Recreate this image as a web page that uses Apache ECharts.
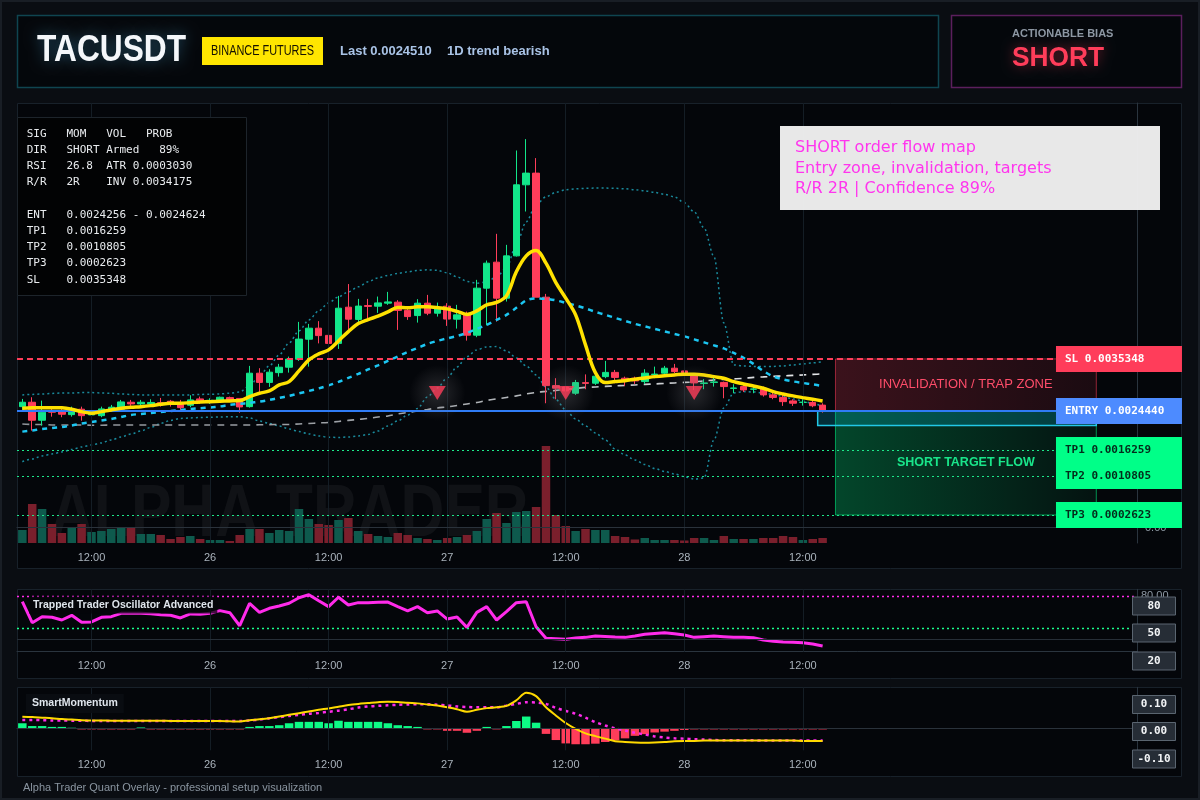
<!DOCTYPE html>
<html>
<head>
<meta charset="utf-8">
<title>TACUSDT</title>
<script src="https://cdn.jsdelivr.net/npm/echarts@6/dist/echarts.min.js"></script>
<style>
html,body{margin:0;padding:0;background:#0a0d12;overflow:hidden;}
#chart{width:1200px;height:800px;}
</style>
</head>
<body>
<div id="chart"></div>
<script>
// ---------------- data ----------------
const symbolName = 'TACUSDT';
const exchangeName = 'BINANCE FUTURES';
const lastPrice = 0.0024510;
const trendText = '1D trend bearish';
const biasText = 'SHORT';
const dayStart = 25;            // x values are hours counted from day 25 00:00
const startHour = 5;            // first hourly candle: 25 05:00
const tickHours = [12, 24, 36, 48, 60, 72, 84];

const opens = [0.002534,0.002626,0.002249,0.002429,0.002423,0.002366,0.002480,0.002360,0.002345,0.002465,
0.002480,0.002626,0.002591,0.002591,0.002618,0.002647,0.002618,0.002563,0.002696,0.002660,
0.002660,0.002723,0.002706,0.002534,0.003235,0.003042,0.003247,0.003361,0.003528,0.003948,
0.004179,0.004028,0.003860,0.004619,0.004363,0.004653,0.004640,0.004703,0.004724,0.004552,
0.004443,0.004703,0.004493,0.004640,0.004368,0.004458,0.004032,0.005018,0.005563,0.004808,
0.005695,0.007185,0.007430,0.004829,0.002975,0.002947,0.002815,0.003038,0.003025,0.003163,
0.003252,0.003130,0.003130,0.003059,0.003205,0.003235,0.003340,0.003283,0.003189,0.003021,
0.003042,0.003042,0.002916,0.002954,0.002899,0.002920,0.002780,0.002727,0.002654,0.002622,
0.002622,0.002566];
const closes = [0.002626,0.002249,0.002417,0.002417,0.002375,0.002450,0.002345,0.002417,0.002486,0.002522,
0.002633,0.002591,0.002626,0.002622,0.002584,0.002626,0.002513,0.002675,0.002660,0.002668,
0.002731,0.002675,0.002528,0.003235,0.003042,0.003256,0.003361,0.003531,0.003950,0.004179,
0.004023,0.003860,0.004598,0.004368,0.004642,0.004636,0.004709,0.004730,0.004552,0.004422,
0.004703,0.004493,0.004615,0.004370,0.004458,0.004032,0.005018,0.005542,0.004808,0.005695,
0.007185,0.007430,0.004829,0.002975,0.002920,0.002863,0.003038,0.003021,0.003172,0.003252,
0.003147,0.003094,0.003073,0.003235,0.003216,0.003340,0.003268,0.003241,0.003031,0.003031,
0.003052,0.002954,0.002926,0.002884,0.002905,0.002780,0.002727,0.002639,0.002605,0.002628,
0.002553,0.002451];
const lows = [0.002465,0.002031,0.002136,0.002324,0.002312,0.002324,0.002240,0.002276,0.002312,0.002429,
0.002444,0.002549,0.002534,0.002534,0.002534,0.002534,0.002465,0.002522,0.002591,0.002591,
0.002639,0.002639,0.002408,0.002513,0.002821,0.002947,0.003163,0.003247,0.003493,0.003373,
0.003860,0.003394,0.003744,0.004143,0.004284,0.004374,0.004500,0.004668,0.004143,0.004353,
0.004296,0.004451,0.004422,0.004227,0.004170,0.003918,0.003990,0.004237,0.004317,0.004737,
0.005681,0.006625,0.004829,0.002605,0.002689,0.002780,0.002780,0.002899,0.002989,0.003130,
0.003025,0.002968,0.003010,0.003010,0.003130,0.003178,0.003235,0.003163,0.002884,0.002899,
0.002954,0.002710,0.002815,0.002842,0.002815,0.002744,0.002689,0.002549,0.002549,0.002555,
0.002522,0.002408];
const highs = [0.002696,0.002731,0.002660,0.002507,0.002501,0.002534,0.002534,0.002507,0.002534,0.002570,
0.002675,0.002675,0.002675,0.002689,0.002717,0.002675,0.002675,0.002773,0.002744,0.002710,
0.002744,0.002744,0.002710,0.003388,0.003340,0.003319,0.003430,0.003583,0.004311,0.004269,
0.004326,0.004080,0.004856,0.005104,0.004793,0.004793,0.004842,0.004940,0.004766,0.004598,
0.004787,0.004877,0.004716,0.004703,0.004668,0.004527,0.005192,0.005597,0.006157,0.005926,
0.007904,0.008143,0.007745,0.004898,0.003130,0.003094,0.003094,0.003210,0.003199,0.003493,
0.003304,0.003163,0.003163,0.003319,0.003373,0.003388,0.003430,0.003319,0.003235,0.003109,
0.003142,0.003059,0.003004,0.002989,0.002975,0.002954,0.002849,0.002815,0.002689,0.002689,
0.002660,0.002605];
const volumes = [1.3,3.9,3.4,1.9,1.0,1.5,1.9,1.1,1.2,1.4, 1.5,1.5,0.9,0.9,0.8,0.4,0.6,0.7,0.4,0.3,
0.3,0.2,0.8,1.4,1.4,1.0,1.3,1.2,3.4,2.4, 1.9,1.8,2.3,2.5,1.2,0.9,0.7,0.6,1.0,0.8,
0.5,0.4,0.3,0.5,0.6,0.8,1.2,2.4,3.0,2.0, 3.1,3.2,3.6,9.7,2.8,1.7,1.2,1.4,1.3,1.3,
0.7,0.6,0.35,0.5,0.3,0.3,0.3,0.25,0.5,0.5, 0.3,0.7,0.4,0.4,0.4,0.5,0.5,0.7,0.6,0.3,
0.4,0.5];
const emaFast = [0.002501,0.002513,0.002513,0.002513,0.002509,0.002480,0.002429,0.002396,0.002429,0.002465,
0.002501,0.002522,0.002534,0.002555,0.002584,0.002605,0.002605,0.002618,0.002633,0.002639,
0.002647,0.002654,0.002660,0.002744,0.002815,0.002863,0.002989,0.003059,0.003283,0.003514,
0.003640,0.003724,0.003912,0.004107,0.004275,0.004359,0.004430,0.004521,0.004615,0.004605,
0.004626,0.004626,0.004611,0.004584,0.004531,0.004468,0.004542,0.004668,0.004720,0.004856,
0.005360,0.005695,0.005807,0.005542,0.005135,0.004808,0.004458,0.003828,0.003247,0.003038,
0.003059,0.003079,0.003109,0.003136,0.003163,0.003184,0.003199,0.003214,0.003214,0.003199,
0.003163,0.003130,0.003059,0.003010,0.002968,0.002920,0.002849,0.002800,0.002759,0.002723,
0.002689,0.002654];
const emaMid = [0.002010,0.002035,0.002066,0.002087,0.002108,0.002140,0.002182,0.002213,0.002245,0.002276,
0.002318,0.002360,0.002381,0.002402,0.002423,0.002444,0.002465,0.002486,0.002501,0.002517,
0.002538,0.002570,0.002591,0.002612,0.002639,0.002675,0.002717,0.002759,0.002811,0.002863,
0.002916,0.002979,0.003052,0.003136,0.003220,0.003314,0.003398,0.003493,0.003587,0.003682,
0.003765,0.003849,0.003912,0.003965,0.004017,0.004080,0.004164,0.004248,0.004353,0.004458,
0.004605,0.004762,0.004804,0.004793,0.004762,0.004709,0.004657,0.004594,0.004521,0.004458,
0.004395,0.004332,0.004269,0.004217,0.004164,0.004112,0.004059,0.004007,0.003944,0.003881,
0.003818,0.003755,0.003661,0.003556,0.003430,0.003283,0.003168,0.003105,0.003063,0.003031,
0.003000,0.002968];
const smaSlow = [0.002171,0.002161,0.002161,0.002150,0.002150,0.002150,0.002150,0.002144,0.002144,0.002150,
0.002150,0.002150,0.002150,0.002150,0.002150,0.002150,0.002150,0.002150,0.002150,0.002150,
0.002150,0.002150,0.002150,0.002150,0.002154,0.002157,0.002159,0.002161,0.002171,0.002182,
0.002192,0.002203,0.002224,0.002245,0.002266,0.002287,0.002318,0.002339,0.002381,0.002412,
0.002444,0.002475,0.002507,0.002528,0.002559,0.002591,0.002622,0.002664,0.002696,0.002727,
0.002759,0.002800,0.002832,0.002853,0.002874,0.002895,0.002916,0.002937,0.002947,0.002958,
0.002968,0.002979,0.002989,0.003000,0.003010,0.003021,0.003031,0.003042,0.003052,0.003073,
0.003094,0.003105,0.003115,0.003126,0.003147,0.003157,0.003168,0.003178,0.003189,0.003199,
0.003210,0.003220];
const bbUpper = [0.002780,0.002790,0.002800,0.002811,0.002821,0.002821,0.002828,0.002828,0.002821,0.002815,
0.002800,0.002790,0.002780,0.002780,0.002780,0.002780,0.002780,0.002780,0.002790,0.002794,
0.002800,0.002815,0.002842,0.002968,0.003178,0.003388,0.003619,0.003870,0.004122,0.004353,
0.004542,0.004709,0.004835,0.004940,0.005045,0.005150,0.005234,0.005286,0.005328,0.005360,
0.005391,0.005402,0.005391,0.005339,0.005255,0.005160,0.005123,0.005150,0.005255,0.005444,
0.005926,0.006409,0.006765,0.006933,0.007027,0.007080,0.007101,0.007111,0.007116,0.007116,
0.007111,0.007101,0.007080,0.007059,0.007027,0.006985,0.006933,0.006807,0.006618,0.006283,
0.005681,0.004290,0.003409,0.003388,0.003377,0.003373,0.003377,0.003388,0.003409,0.003430,
0.003451,0.003478];
const bbLower = [0.001380,0.001437,0.001500,0.001542,0.001584,0.001636,0.001689,0.001731,0.001773,0.001836,
0.001898,0.001961,0.002024,0.002098,0.002182,0.002245,0.002287,0.002297,0.002308,0.002312,
0.002318,0.002324,0.002324,0.002297,0.002234,0.002182,0.002129,0.002066,0.002014,0.001961,
0.001919,0.001892,0.001888,0.001898,0.001919,0.001951,0.002024,0.002129,0.002234,0.002360,
0.002496,0.002738,0.002926,0.003136,0.003367,0.003583,0.003724,0.003786,0.003793,0.003703,
0.003556,0.003388,0.003199,0.002947,0.002685,0.002465,0.002276,0.002129,0.001982,0.001836,
0.001647,0.001521,0.001416,0.001322,0.001238,0.001175,0.001122,0.001066,0.001017,0.001038,
0.001836,0.002507,0.002821,0.002849,0.002842,0.002821,0.002790,0.002748,0.002696,0.002654,
0.002601,0.002534];
const signalHours = [47, 60, 73];
const signalPrices = [0.002821, 0.002821, 0.002821];

const oscValues = [74.7,55.2,60.8,60.2,57.7,62.1,55.6,55.9,60.2,60.8,
63.9,63.9,63.9,63.6,62.6,62.1,59.6,63.3,63.0,63.9,
66.4,64.5,52.4,73.2,64.8,68.6,70.7,73.2,78.4,81.2,
75.6,70.1,78.8,71.6,73.8,73.8,74.1,74.4,70.1,66.1,
70.1,64.5,66.1,58.6,60.5,50.9,64.8,70.1,57.7,65.4,
73.8,74.7,51.5,40.7,40.4,39.8,41.0,41.6,42.8,42.5,
42.0,41.6,42.8,44.4,45.2,45.9,45.0,43.8,41.6,42.2,
42.8,42.2,41.6,41.6,41.3,39.1,38.0,37.3,37.0,36.6,
35.4,33.6];
const oscUpper = 80, oscMid = 50, oscGrid = 40;
const momLine = [0.041,0.040,0.038,0.036,0.033,0.031,0.029,0.028,0.028,0.027,
0.027,0.027,0.027,0.027,0.027,0.026,0.026,0.026,0.026,0.026,
0.026,0.025,0.024,0.029,0.032,0.036,0.042,0.048,0.054,0.060,
0.066,0.071,0.077,0.083,0.087,0.090,0.093,0.095,0.094,0.091,
0.089,0.085,0.081,0.075,0.068,0.059,0.066,0.072,0.075,0.080,
0.100,0.127,0.115,0.075,0.046,0.019,-0.002,-0.018,-0.028,-0.037,
-0.046,-0.049,-0.051,-0.052,-0.051,-0.049,-0.046,-0.045,-0.045,-0.044,
-0.044,-0.044,-0.044,-0.044,-0.044,-0.044,-0.044,-0.044,-0.044,-0.045,
-0.045,-0.045];
const momSignal = [0.030,0.030,0.029,0.028,0.028,0.027,0.027,0.026,0.026,0.026,
0.026,0.026,0.026,0.026,0.026,0.026,0.026,0.026,0.026,0.026,
0.026,0.026,0.026,0.028,0.031,0.036,0.040,0.044,0.048,0.052,
0.055,0.059,0.063,0.068,0.074,0.078,0.080,0.082,0.084,0.085,
0.086,0.086,0.084,0.082,0.078,0.076,0.075,0.075,0.075,0.081,
0.087,0.093,0.092,0.087,0.073,0.062,0.052,0.038,0.022,0.010,
0.000,-0.008,-0.016,-0.022,-0.029,-0.033,-0.036,-0.037,-0.039,-0.040,
-0.042,-0.043,-0.043,-0.043,-0.043,-0.044,-0.044,-0.044,-0.044,-0.044,
-0.044,-0.044];
const momHist = [0.018,0.008,0.008,0.005,0.005,0.002,-0.004,-0.004,-0.004,-0.004,
-0.004,-0.004,0.003,-0.004,-0.004,-0.004,-0.004,-0.004,-0.004,-0.004,
-0.004,-0.004,-0.004,0.005,0.008,0.008,0.011,0.018,0.023,0.023,
0.023,0.018,0.027,0.023,0.023,0.023,0.023,0.018,0.011,0.008,
0.005,-0.004,-0.004,-0.009,-0.009,-0.016,-0.009,0.005,-0.004,0.008,
0.026,0.042,0.020,-0.020,-0.042,-0.054,-0.057,-0.057,-0.055,-0.049,
-0.043,-0.036,-0.027,-0.021,-0.015,-0.012,-0.009,-0.006,-0.004,-0.004,
-0.004,-0.004,-0.004,-0.004,-0.004,-0.004,-0.004,-0.004,-0.004,-0.004,
-0.004,-0.004];
const oscBoxLabels = ['80', '50', '20'];
const momBoxLabels = ['0.10', '0.00', '-0.10'];

// trade setup
const slLevel = 0.0035348;
const entryLevel = 0.0024440;
const tp1Level = 0.0016259;
const tp2Level = 0.0010805;
const tp3Level = 0.0002623;
const entryLow = 0.0024256, entryHigh = 0.0024624;
const atrValue = 0.0003030;
const invLevel = 0.0034175;
const rsiValue = 26.8;
const probValue = 89;
const rrText = '2R';

// ---------------- layout ----------------
const xMin = 4.46, xMax = 117.82;
const labelStartHour = 109.62;
const zoneStartHour = 87.3, zoneEndHour = 113.7, entryZoneStartHour = 85.5;
const SANS = '"Liberation Sans", Arial, sans-serif';
const MONO = '"DejaVu Sans Mono", monospace';

const hours = opens.map((_, i) => startHour + i);
const candleData = hours.map((h, i) => [h, opens[i], closes[i], lows[i], highs[i]]);
const pairs = arr => arr.map((v, i) => [hours[i], v]);
const isUp = i => closes[i] >= opens[i];

function fmtTick(v) {
  const r = Math.round(v);
  return r % 24 === 0 ? String(dayStart + r / 24) : '12:00';
}
function xAxisFor(gi) {
  return {
    type: 'value', gridIndex: gi, min: xMin, max: xMax,
    axisLine: {show: true, lineStyle: {color: '#2a343e', width: 1}},
    axisTick: {show: false}, splitLine: {show: false},
    axisLabel: {customValues: tickHours, formatter: fmtTick, color: '#aab3bc', fontSize: 11, fontFamily: SANS, margin: 9}
  };
}
const vGridLines = tickHours.map(h => ({xAxis: h}));
const gridLineStyle = {color: '#141d25', width: 1, type: 'solid'};

function levelLine(value, text, color, type, width, bg, txt) {
  return [
    {coord: [xMin, value], lineStyle: {color: color, type: type, width: width},
     label: {show: true, position: 'end', distance: 0, formatter: text, backgroundColor: bg, color: txt,
             fontFamily: MONO, fontWeight: 'bold', fontSize: 11, width: 108, height: 26, lineHeight: 26, padding: [0, 9, 0, 9]}},
    {coord: [labelStartHour, value]}
  ];
}

const infoLines = [
  'SIG   MOM   VOL   PROB',
  'DIR   ' + biasText + ' Armed   ' + probValue + '%',
  'RSI   ' + rsiValue.toFixed(1) + '  ATR ' + atrValue.toFixed(7),
  'R/R   ' + rrText + '    INV ' + invLevel.toFixed(7),
  '',
  'ENT   ' + entryLow.toFixed(7) + ' - ' + entryHigh.toFixed(7),
  'TP1   ' + tp1Level.toFixed(7),
  'TP2   ' + tp2Level.toFixed(7),
  'TP3   ' + tp3Level.toFixed(7),
  'SL    ' + slLevel.toFixed(7)
];
const noteLines = [
  biasText + ' order flow map',
  'Entry zone, invalidation, targets',
  'R/R ' + rrText + ' | Confidence ' + probValue + '%'
];

function txt(x, y, text, font, fill, extra) {
  return Object.assign({type: 'text', x: x, y: y, z: 100,
    style: Object.assign({text: text, font: font, fill: fill, align: 'left', verticalAlign: 'middle',
      textAlign: 'left', textVerticalAlign: 'middle'}, (extra && extra.style) || {})},
    (extra && extra.props) || {});
}
function box(x, y, w, h, fill, stroke, z, lw) {
  return {type: 'rect', z: z, shape: {x: x, y: y, width: w, height: h},
    style: {fill: fill, stroke: stroke || null, lineWidth: lw || 1}};
}
function valueBoxes(labels, centers) {
  const out = [];
  labels.forEach((l, k) => {
    out.push(box(1132.5, centers[k] - 9, 43, 18, '#262d36', '#5a6570', 100, 1));
    out.push(txt(1154, centers[k], l, 'bold 11px ' + MONO, '#f2f4f6',
      {style: {align: 'center', textAlign: 'center'}}));
  });
  return out;
}

const graphics = [
  // panels
  box(1, 1, 1198, 798, null, '#191e25', -20, 2),
  box(17.5, 15.5, 921, 72, '#04070b', '#0f4550', -10, 1.5),
  box(951.5, 15.5, 230, 72, '#04070b', '#5b1f5d', -10, 1.5),
  box(17.5, 103.5, 1164, 465, '#04060a', '#18212a', -10, 1),
  box(17.5, 589.5, 1164, 89, '#04060a', '#18212a', -10, 1),
  box(17.5, 687.5, 1164, 89, '#04060a', '#18212a', -10, 1),
  // watermark
  {type: 'text', x: 50, y: 516, z: 1, scaleX: 0.82,
   style: {text: 'ALPHA TRADER', font: 'bold 74px ' + SANS, fill: 'rgba(255,255,255,0.05)',
           align: 'left', verticalAlign: 'middle', textAlign: 'left', textVerticalAlign: 'middle'}},
  // header
  txt(37, 51, symbolName, 'bold 36px ' + SANS, '#f4f7fa',
      {props: {scaleX: 0.88}, style: {textShadowBlur: 14, textShadowColor: 'rgba(70,170,220,0.45)'}}),
  box(202, 37, 121, 28, '#ffe600', null, 100),
  txt(262.5, 51.5, exchangeName, '14px ' + SANS, '#141000',
      {props: {scaleX: 0.78}, style: {align: 'center', textAlign: 'center'}}),
  txt(340, 51.5, 'Last ' + lastPrice.toFixed(7), 'bold 13px ' + SANS, '#a9c3e6'),
  txt(447, 51.5, trendText, 'bold 13px ' + SANS, '#a9c3e6'),
  txt(1012, 34, 'ACTIONABLE BIAS', 'bold 11px ' + SANS, '#8d97a3'),
  txt(1012, 58.5, biasText, 'bold 28px ' + SANS, '#ff3d5a',
      {props: {scaleX: 0.94}, style: {textShadowBlur: 12, textShadowColor: 'rgba(255,61,90,0.45)'}}),
  // info box
  box(17.5, 117.5, 229, 178, '#020304', '#1d242b', 100, 1),
  {type: 'text', x: 26.7, y: 125.9, z: 101,
   style: {text: infoLines.join('\n'), font: '11px ' + MONO, fill: '#e9ecef', lineHeight: 16.2,
           align: 'left', verticalAlign: 'top', textAlign: 'left', textVerticalAlign: 'top'}},
  // note box
  box(780, 126, 380, 84, 'rgba(239,239,239,0.97)', null, 100),
  txt(795, 147.5, noteLines[0], '16px "DejaVu Sans", sans-serif', '#ff35ee'),
  txt(795, 168.5, noteLines[1], '16px "DejaVu Sans", sans-serif', '#ff35ee'),
  txt(795, 189, noteLines[2], '16px "DejaVu Sans", sans-serif', '#ff35ee'),
  // sub-panel titles
  txt(29, 605, 'Trapped Trader Oscillator Advanced', 'bold 10.5px ' + SANS, '#dfe5ec',
      {style: {backgroundColor: 'rgba(4,6,10,0.75)', padding: [3, 4, 3, 4]}}),
  txt(26, 703.5, 'SmartMomentum', 'bold 10.5px ' + SANS, '#dfe5ec',
      {style: {backgroundColor: 'rgba(10,13,18,0.9)', padding: [4, 6, 4, 6]}}),
  txt(23, 788, 'Alpha Trader Quant Overlay - professional setup visualization', '11px ' + SANS, '#8a95a0')
].concat(valueBoxes(oscBoxLabels, [606, 633, 661]), valueBoxes(momBoxLabels, [704.5, 731.5, 759]));

const option = {
  backgroundColor: '#0a0d12',
  animation: false,
  grid: [
    {left: 17, top: 103, width: 1120, height: 440},
    {left: 17, top: 589.3, width: 1120, height: 62.4},
    {left: 17, top: 687.3, width: 1120, height: 63}
  ],
  xAxis: [xAxisFor(0), xAxisFor(1), xAxisFor(2)],
  yAxis: [
    {type: 'value', gridIndex: 0, position: 'right', min: -0.000325, max: 0.0089,
     axisLine: {show: true, lineStyle: {color: '#2a343e'}}, axisTick: {show: false}, splitLine: {show: false},
     axisLabel: {customValues: [0], formatter: v => v.toFixed(2), color: '#8f9aa5', fontSize: 11, fontFamily: SANS, margin: 8}},
    {type: 'value', gridIndex: 0, min: 0, max: 44, show: false, splitLine: {show: false}},
    {type: 'value', gridIndex: 1, position: 'right', min: 28.3, max: 86.2,
     axisLine: {show: true, lineStyle: {color: '#2a343e'}}, axisTick: {show: false}, splitLine: {show: false},
     axisLabel: {customValues: [80], formatter: v => v.toFixed(2), color: '#8f9aa5', fontSize: 11, fontFamily: SANS, margin: 4}},
    {type: 'value', gridIndex: 2, position: 'right', min: -0.0786, max: 0.1464,
     axisLine: {show: true, lineStyle: {color: '#2a343e'}}, axisTick: {show: false}, splitLine: {show: false},
     axisLabel: {show: false}}
  ],
  graphic: {elements: graphics},
  series: [
    {type: 'bar', name: 'volume', xAxisIndex: 0, yAxisIndex: 1, barWidth: 8.5, z: 2, silent: true,
     data: volumes.map((v, i) => ({value: [hours[i], v], itemStyle: {color: isUp(i) ? '#0e5a4d' : '#7a1f2c'}})),
     markLine: {silent: true, symbol: ['none', 'none'], label: {show: false}, lineStyle: gridLineStyle, data: vGridLines}},
    {type: 'line', name: 'bbUpper', xAxisIndex: 0, yAxisIndex: 0, data: pairs(bbUpper), symbol: 'none', z: 2,
     smooth: 0.3, smoothMonotone: 'x', lineStyle: {color: '#1a8a9c', width: 1.5, type: [2, 3]}},
    {type: 'line', name: 'bbLower', xAxisIndex: 0, yAxisIndex: 0, data: pairs(bbLower), symbol: 'none', z: 2,
     smooth: 0.3, smoothMonotone: 'x', lineStyle: {color: '#1a8a9c', width: 1.5, type: [2, 3]}},
    {type: 'line', name: 'smaSlow', xAxisIndex: 0, yAxisIndex: 0, data: pairs(smaSlow), symbol: 'none', z: 2,
     smooth: 0.3, lineStyle: {width: 1.6, type: [7, 6],
       color: {type: 'linear', x: 0, y: 0, x2: 1, y2: 0, colorStops: [
         {offset: 0, color: '#8e9399'}, {offset: 0.45, color: '#9fa3a8'}, {offset: 1, color: '#e8eaec'}]}}},
    {type: 'candlestick', name: 'price', xAxisIndex: 0, yAxisIndex: 0, data: candleData, barWidth: 7, z: 3, clip: false,
     itemStyle: {color: '#12e68a', color0: '#ff3d5a', borderColor: '#12e68a', borderColor0: '#ff3d5a', borderWidth: 1},
     markArea: {silent: true, data: [
       [{name: 'INVALIDATION / TRAP ZONE', coord: [zoneStartHour, slLevel],
         itemStyle: {color: {type: 'linear', x: 0, y: 0, x2: 1, y2: 0, colorStops: [
           {offset: 0, color: 'rgba(255,61,90,0.22)'}, {offset: 1, color: 'rgba(255,61,90,0.09)'}]},
           borderColor: 'rgba(255,61,90,0.55)', borderWidth: 1},
         label: {show: true, position: 'inside', color: '#ff4d6a', fontSize: 13, fontFamily: SANS}},
        {coord: [zoneEndHour, entryLevel]}],
       [{name: 'SHORT TARGET FLOW', coord: [zoneStartHour, entryLevel],
         itemStyle: {color: {type: 'linear', x: 0, y: 0, x2: 1, y2: 0, colorStops: [
           {offset: 0, color: 'rgba(0,255,136,0.26)'}, {offset: 1, color: 'rgba(0,255,136,0.05)'}]},
           borderColor: 'rgba(0,255,136,0.55)', borderWidth: 1},
         label: {show: true, position: 'inside', color: '#19e58a', fontSize: 12.5, fontWeight: 'bold', fontFamily: SANS}},
        {coord: [zoneEndHour, tp3Level]}],
       [{name: '', coord: [entryZoneStartHour, entryLevel],
         itemStyle: {color: 'rgba(0,170,200,0.25)', borderColor: '#22c8e6', borderWidth: 1.5},
         label: {show: false}},
        {coord: [zoneEndHour, entryLevel - atrValue]}]
     ]},
     markLine: {silent: true, symbol: ['none', 'none'], data: [
       {yAxis: 0, lineStyle: {color: '#2a323b', width: 1, type: 'solid'}, label: {show: false}},
       levelLine(slLevel, 'SL ' + slLevel.toFixed(7), '#ff3d5a', [6, 4], 1.8, '#ff3d5a', '#ffffff'),
       levelLine(entryLevel, 'ENTRY ' + entryLevel.toFixed(7), '#2f7cf6', 'solid', 2, '#4d8bff', '#ffffff'),
       levelLine(tp1Level, 'TP1 ' + tp1Level.toFixed(7), '#1de88a', [2, 3], 1.2, '#00ff88', '#032c1b'),
       levelLine(tp2Level, 'TP2 ' + tp2Level.toFixed(7), '#1de88a', [2, 3], 1.2, '#00ff88', '#032c1b'),
       levelLine(tp3Level, 'TP3 ' + tp3Level.toFixed(7), '#1de88a', [2, 3], 1.2, '#00ff88', '#032c1b')
     ]}},
    {type: 'line', name: 'emaMid', xAxisIndex: 0, yAxisIndex: 0, data: pairs(emaMid), symbol: 'none', z: 4,
     smooth: 0.3, lineStyle: {color: '#1cc6f2', width: 2.5, type: [5, 5]}},
    {type: 'line', name: 'emaFast', xAxisIndex: 0, yAxisIndex: 0, data: pairs(emaFast), symbol: 'none', z: 5,
     smooth: 0.35, lineStyle: {color: '#ffe100', width: 3.5}},
    {type: 'scatter', name: 'signalGlow', xAxisIndex: 0, yAxisIndex: 0, z: 5, silent: true,
     data: signalHours.map((h, k) => [h, signalPrices[k]]), symbol: 'circle', symbolSize: 56,
     itemStyle: {color: {type: 'radial', x: 0.5, y: 0.5, r: 0.5, colorStops: [
       {offset: 0, color: 'rgba(110,110,115,0.42)'}, {offset: 1, color: 'rgba(110,110,115,0)'}]}}},
    {type: 'scatter', name: 'signals', xAxisIndex: 0, yAxisIndex: 0, z: 6,
     data: signalHours.map((h, k) => [h, signalPrices[k]]), symbol: 'triangle', symbolRotate: 180,
     symbolSize: [17, 14], itemStyle: {color: '#ff3d5a'}},
    // oscillator
    {type: 'line', name: 'osc', xAxisIndex: 1, yAxisIndex: 2, data: pairs(oscValues), symbol: 'none', z: 3,
     lineStyle: {color: '#ff2bea', width: 3},
     markLine: {silent: true, symbol: ['none', 'none'], label: {show: false}, data: vGridLines.map(d => Object.assign({lineStyle: gridLineStyle}, d)).concat([
       {yAxis: oscGrid, lineStyle: {color: '#262e37', width: 1, type: 'solid'}},
       {yAxis: oscUpper, lineStyle: {color: '#ff2bea', width: 1.3, type: [2, 3]}},
       {yAxis: oscMid, lineStyle: {color: '#19ff8c', width: 1.3, type: [2, 3]}}
     ])}},
    // momentum
    {type: 'bar', name: 'momHist', xAxisIndex: 2, yAxisIndex: 3, barWidth: 8.5, z: 2,
     data: momHist.map((v, i) => ({value: [hours[i], v], itemStyle: {color: v >= 0 ? '#0dfa86' : '#ff3d5a'}})),
     markLine: {silent: true, symbol: ['none', 'none'], label: {show: false}, data: vGridLines.map(d => Object.assign({lineStyle: gridLineStyle}, d)).concat([
       {yAxis: 0, lineStyle: {color: '#2a323b', width: 1, type: 'solid'}}
     ])}},
    {type: 'line', name: 'momSignal', xAxisIndex: 2, yAxisIndex: 3, data: pairs(momSignal), symbol: 'none', z: 3,
     smooth: 0.3, lineStyle: {color: '#ff2bea', width: 2.5, type: [3, 4]}},
    {type: 'line', name: 'momLine', xAxisIndex: 2, yAxisIndex: 3, data: pairs(momLine), symbol: 'none', z: 4,
     smooth: 0.3, lineStyle: {color: '#ffd900', width: 2}}
  ]
};

const chart = echarts.init(document.getElementById('chart'), null, {width: 1200, height: 800});
chart.setOption(option);
</script>
</body>
</html>
